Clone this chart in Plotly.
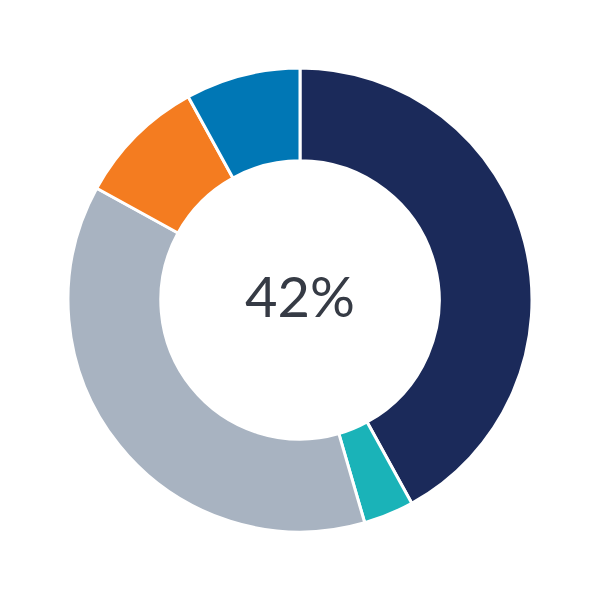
import plotly.graph_objects as go

labels = ["A", "B", "C", "D", "E"]
values = [42, 3.5, 37.5, 9, 8]
colors = ["#1b2a5a", "#1ab3b8", "#a8b3c1", "#f47c20", "#0077b5"]
center_text = "42%"

fig = go.Figure(go.Pie(
    labels=labels, values=values, hole=0.6, sort=False, direction="clockwise",
    rotation=0, textinfo="none", hoverinfo="label+percent",
    marker=dict(colors=colors, line=dict(color="white", width=3)),
    domain=dict(x=[0, 1], y=[0, 1]),
))
fig.update_layout(
    width=600, height=600, showlegend=False,
    margin=dict(l=60, r=76, t=60, b=76),
    paper_bgcolor="white", plot_bgcolor="white",
    annotations=[dict(text=center_text, x=0.5, y=0.5, xref="paper", yref="paper",
                      yshift=5, showarrow=False,
                      font=dict(size=56, color="#363b45", family="Lato"))],
)
fig.write_html("out.html")
